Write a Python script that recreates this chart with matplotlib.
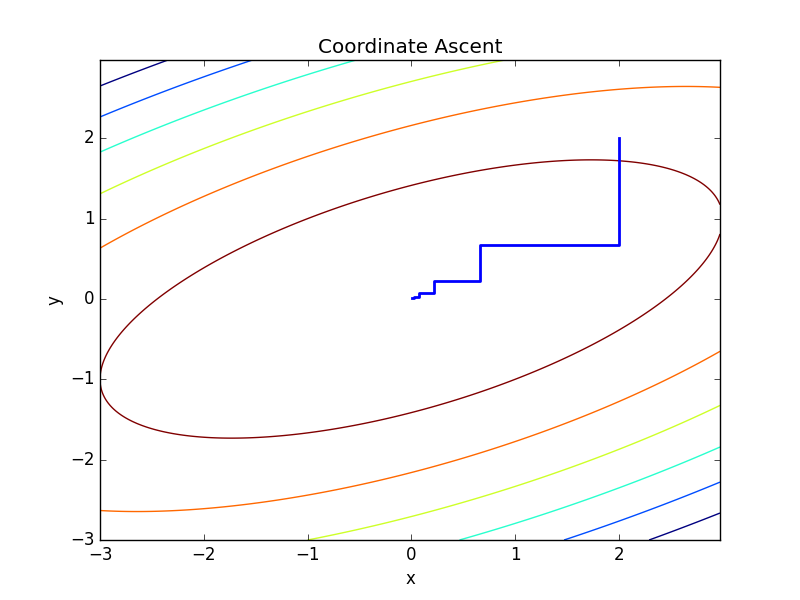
import numpy as np
import matplotlib
matplotlib.use("Agg")
import matplotlib.pyplot as plt
plt.style.use('classic')

levels = [-46, -38, -30, -22, -14, -6]
path_x = [2, 2, 0.6667, 0.6667, 0.2222, 0.2222, 0.0741, 0.0741, 0.0247, 0.0247, 0.0082]
path_y = [2, 0.6667, 0.6667, 0.2222, 0.2222, 0.0741, 0.0741, 0.0247, 0.0247, 0.0082, 0.0082]

xs = np.arange(-3, 3, 0.025)
ys = np.arange(-3, 3, 0.025)
X, Y = np.meshgrid(xs, ys)
Z = -(X**2 - 2*X*Y + 3*Y**2)

fig = plt.figure(figsize=(8, 6), dpi=100)
ax = fig.add_subplot(111)
ax.contour(X, Y, Z, levels=levels, cmap='jet')
ax.plot(path_x, path_y, 'b-', linewidth=2)
ax.set_xlim(-3, xs[-1])
ax.set_ylim(-3, ys[-1])
ax.set_xticks([-3, -2, -1, 0, 1, 2])
ax.set_yticks([-3, -2, -1, 0, 1, 2])
ax.set_title('Coordinate Ascent')
ax.set_xlabel('x')
ax.set_ylabel('y')
fig.savefig('out.png', dpi=100)
